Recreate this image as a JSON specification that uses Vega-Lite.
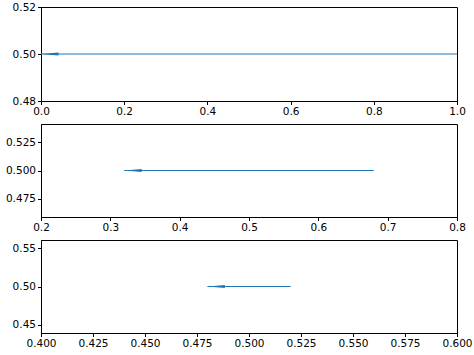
{
  "$schema": "https://vega.github.io/schema/vega-lite/v6.json",
  "padding": {"left": 4, "top": 1, "right": 0, "bottom": 0},
  "spacing": 5,
  "config": {
    "font": "DejaVu Sans",
    "view": {"stroke": "#000000", "strokeWidth": 1},
    "axis": {
      "grid": false,
      "domainColor": "#000000",
      "tickColor": "#000000",
      "tickSize": 3.5,
      "labelColor": "#000000",
      "labelFontSize": 10.5,
      "labelPadding": 2,
      "title": null,
      "labelFlush": false,
      "labelOverlap": false
    }
  },
  "data": {
    "values": [
      {"panel": 1, "start": 1.0, "tip": 0.0, "y": 0.5},
      {"panel": 2, "start": 0.68, "tip": 0.32, "y": 0.5},
      {"panel": 3, "start": 0.52, "tip": 0.48, "y": 0.5}
    ]
  },
  "vconcat": [
    {
      "width": 416, "height": 94,
      "transform": [{"filter": "datum.panel == 1"}],
      "layer": [
        {
          "mark": {"type": "rule", "color": "#1f77b4", "strokeWidth": 1},
          "encoding": {
            "x": {"field": "start", "type": "quantitative", "scale": {"domain": [0, 1], "nice": false, "zero": false}, "axis": {"values": [0, 0.2, 0.4, 0.6, 0.8, 1.0], "format": ".1f"}},
            "x2": {"field": "tip"},
            "y": {"field": "y", "type": "quantitative", "scale": {"domain": [0.48, 0.52], "nice": false, "zero": false}, "axis": {"values": [0.48, 0.5, 0.52], "format": ".2f"}}
          }
        },
        {
          "mark": {"type": "point", "filled": true, "opacity": 1, "color": "#1f77b4", "size": 100, "shape": "M0,0L3.5,-0.3L3.5,0.3Z"},
          "encoding": {
            "x": {"field": "tip", "type": "quantitative"},
            "y": {"field": "y", "type": "quantitative"}
          }
        }
      ]
    },
    {
      "width": 416, "height": 93,
      "transform": [{"filter": "datum.panel == 2"}],
      "layer": [
        {
          "mark": {"type": "rule", "color": "#1f77b4", "strokeWidth": 1},
          "encoding": {
            "x": {"field": "start", "type": "quantitative", "scale": {"domain": [0.2, 0.8], "nice": false, "zero": false}, "axis": {"values": [0.2, 0.3, 0.4, 0.5, 0.6, 0.7, 0.8], "format": ".1f"}},
            "x2": {"field": "tip"},
            "y": {"field": "y", "type": "quantitative", "scale": {"domain": [0.459, 0.541], "nice": false, "zero": false}, "axis": {"values": [0.475, 0.5, 0.525], "format": ".3f"}}
          }
        },
        {
          "mark": {"type": "point", "filled": true, "opacity": 1, "color": "#1f77b4", "size": 100, "shape": "M0,0L3.5,-0.3L3.5,0.3Z"},
          "encoding": {
            "x": {"field": "tip", "type": "quantitative"},
            "y": {"field": "y", "type": "quantitative"}
          }
        }
      ]
    },
    {
      "width": 416, "height": 93,
      "transform": [{"filter": "datum.panel == 3"}],
      "layer": [
        {
          "mark": {"type": "rule", "color": "#1f77b4", "strokeWidth": 1},
          "encoding": {
            "x": {"field": "start", "type": "quantitative", "scale": {"domain": [0.4, 0.6], "nice": false, "zero": false}, "axis": {"values": [0.4, 0.425, 0.45, 0.475, 0.5, 0.525, 0.55, 0.575, 0.6], "format": ".3f"}},
            "x2": {"field": "tip"},
            "y": {"field": "y", "type": "quantitative", "scale": {"domain": [0.439, 0.561], "nice": false, "zero": false}, "axis": {"values": [0.45, 0.5, 0.55], "format": ".2f"}}
          }
        },
        {
          "mark": {"type": "point", "filled": true, "opacity": 1, "color": "#1f77b4", "size": 100, "shape": "M0,0L3.5,-0.3L3.5,0.3Z"},
          "encoding": {
            "x": {"field": "tip", "type": "quantitative"},
            "y": {"field": "y", "type": "quantitative"}
          }
        }
      ]
    }
  ]
}
